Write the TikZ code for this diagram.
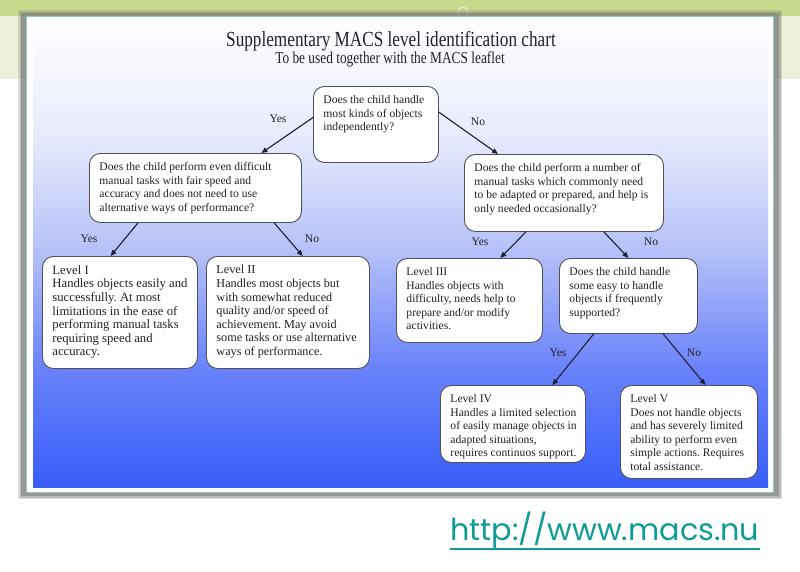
\documentclass[tikz,border=0pt]{standalone}
\usepackage{fontspec}
\setmainfont{Liberation Serif}
\newfontfamily\chartfont{Liberation Serif}
\newfontfamily\titlefont[FakeStretch=0.8]{Liberation Serif}
\newfontfamily\urlfont{Poppins}
\usetikzlibrary{arrows.meta,calc}
\frenchspacing

\definecolor{slidegreen}{RGB}{199,217,140}
\definecolor{slidepale}{RGB}{237,241,217}
\definecolor{frameline}{RGB}{150,200,198}
\definecolor{shadowgray}{RGB}{120,122,118}
\definecolor{boxline}{RGB}{80,80,88}
\definecolor{ink}{RGB}{34,34,40}
\definecolor{arrowink}{RGB}{28,30,55}
\definecolor{urlteal}{RGB}{16,156,150}
\definecolor{bgA}{RGB}{56,94,248}
\definecolor{bgB}{RGB}{105,130,250}
\definecolor{bgC}{RGB}{180,192,248}
\definecolor{bgD}{RGB}{232,235,252}

% chart background: deep blue at the foot fading to white at the head
% (the filled path spans 25bp..75bp of the shading)
\pgfdeclareverticalshading{chartbg}{100bp}{color(0bp)=(bgA); color(25bp)=(bgA); color(37.5bp)=(bgB); color(50bp)=(bgC); color(62.5bp)=(bgD); color(75bp)=(white); color(100bp)=(white)}

\newcommand\boxfont{\chartfont\fontsize{11.6}{13.6}\selectfont\raggedright\rightskip=-8pt plus 1fil\relax}
\newcommand\lblfont{\chartfont\fontsize{11.6}{13.6}\selectfont}
% text block of a w x h box, top aligned (w, h in px)
\newcommand\chartpar[3]{\parbox[c][\dimexpr#2pt-18pt\relax][t]{\dimexpr#1pt-20pt\relax}{\boxfont #3}}

\tikzset{
  qbox/.style={draw=boxline, fill=white, line width=0.9pt, rounded corners=11pt,
    inner xsep=10pt, inner ysep=9pt, anchor=north west, text=ink},
  arr/.style={draw=arrowink, line width=1.1pt, -{Triangle[length=6pt,width=5pt]}},
  lbl/.style={font=\lblfont, text=ink, inner sep=1pt},
}

\begin{document}
\begin{tikzpicture}[x=1pt,y=-1pt]
\useasboundingbox (0,0) rectangle (800,571);
% slide background
\fill[white] (0,0) rectangle (800,571);
\fill[slidepale] (0,16) rectangle (800,79);
\fill[slidegreen] (0,0) rectangle (800,16);
\draw[white,opacity=0.7,line width=0.8pt] (463,12) circle (5);

% soft shadow and frame around the chart
\foreach \d/\o in {3/0.25,1.5/0.35,0/0.5}
  \fill[shadowgray,opacity=\o] (21-\d,13-\d) rectangle (779+\d,496+\d);
\draw[frameline,fill=white,line width=0.8pt] (26,16) rectangle (773,492);
\fill[shading=chartbg] (33,17) rectangle (768,487);

% headings
\node[font=\titlefont\fontsize{21.5}{24}\selectfont, text=ink] (title) at (391,41)
  {Supplementary MACS level identification chart};
\node[font=\titlefont\fontsize{16.7}{19}\selectfont, text=ink] (subtitle) at (390,59)
  {To be used together with the MACS leaflet};

% questions and levels
\node[qbox] (root) at (313,86) {\chartpar{125}{76}{Does the child handle\\ most kinds of objects\\ independently?}};
\node[qbox] (q2) at (89,153) {\chartpar{212}{69}{Does the child perform even difficult\\ manual tasks with fair speed and\\ accuracy and does not need to use\\ alternative ways of performance?}};
\node[qbox] (q3) at (464,154) {\chartpar{199}{77}{Does the child perform a number of\\ manual tasks which commonly need\\ to be adapted or prepared, and help is\\ only needed occasionally?}};
\node[qbox] (l1) at (42,256) {\chartpar{155}{112}{\fontsize{12.7}{13.6}\selectfont Level I\\ Handles objects easily and\\ successfully. At most\\ limitations in the ease of\\ performing manual tasks\\ requiring speed and\\ accuracy.}};
\node[qbox] (l2) at (206,256) {\chartpar{163}{112}{\fontsize{12.2}{13.6}\selectfont Level II\\ Handles most objects but\\ with somewhat reduced\\ quality and/or speed of\\ achievement. May avoid\\ some tasks or use alternative\\ ways of performance.}};
\node[qbox] (l3) at (396,258) {\chartpar{146}{84}{Level III\\ Handles objects with\\ difficulty, needs help to\\ prepare and/or modify\\ activities.}};
\node[qbox] (q4) at (559,258) {\chartpar{138}{75}{Does the child handle\\ some easy to handle\\ objects if frequently\\ supported?}};
\node[qbox] (l4) at (440,385) {\chartpar{145}{77}{Level IV\\ Handles a limited selection\\ of easily manage objects in\\ adapted situations,\\ requires continuos support.}};
\node[qbox] (l5) at (620,385) {\chartpar{137}{93}{Level V\\ Does not handle objects\\ and has severely limited\\ ability to perform even\\ simple actions. Requires\\ total assistance.}};

% connectors
\draw[arr] ($(root.north west)!0.41!(root.south west)$) -- ($(q2.north west)!0.81!(q2.north east)$);
\draw[arr] ($(root.north east)!0.34!(root.south east)$) -- ($(q3.north west)!0.17!(q3.north east)$);
\draw[arr] ($(q2.south west)!0.23!(q2.south east)$) -- ($(l1.north west)!0.44!(l1.north east)$);
\draw[arr] ($(q2.south west)!0.87!(q2.south east)$) -- ($(l2.north west)!0.59!(l2.north east)$);
\draw[arr] ($(q3.south west)!0.31!(q3.south east)$) -- ($(l3.north west)!0.71!(l3.north east)$);
\draw[arr] ($(q3.south west)!0.70!(q3.south east)$) -- ($(q4.north west)!0.50!(q4.north east)$);
\draw[arr] ($(q4.south west)!0.25!(q4.south east)$) -- ($(l4.north west)!0.77!(l4.north east)$);
\draw[arr] ($(q4.south west)!0.75!(q4.south east)$) -- ($(l5.north west)!0.62!(l5.north east)$);

% answers
\node[lbl] (yes1) at (278,119) {Yes};
\node[lbl] (no1) at (478,122) {No};
\node[lbl] (yes2) at (89,239) {Yes};
\node[lbl] (no2) at (312,239) {No};
\node[lbl] (yes3) at (480,242) {Yes};
\node[lbl] (no3) at (651,242) {No};
\node[lbl] (yes4) at (558,353) {Yes};
\node[lbl] (no4) at (694,353) {No};

% web address
\node[anchor=base west, inner sep=0pt, font=\urlfont\fontsize{30.3}{34}\selectfont, text=urlteal] (url) at (450,540) {http://www.macs.nu};
\draw[urlteal,line width=1.2pt] ($(url.base west)+(0,9)$) -- ($(url.base east)+(0,9)$);
\end{tikzpicture}
\end{document}
